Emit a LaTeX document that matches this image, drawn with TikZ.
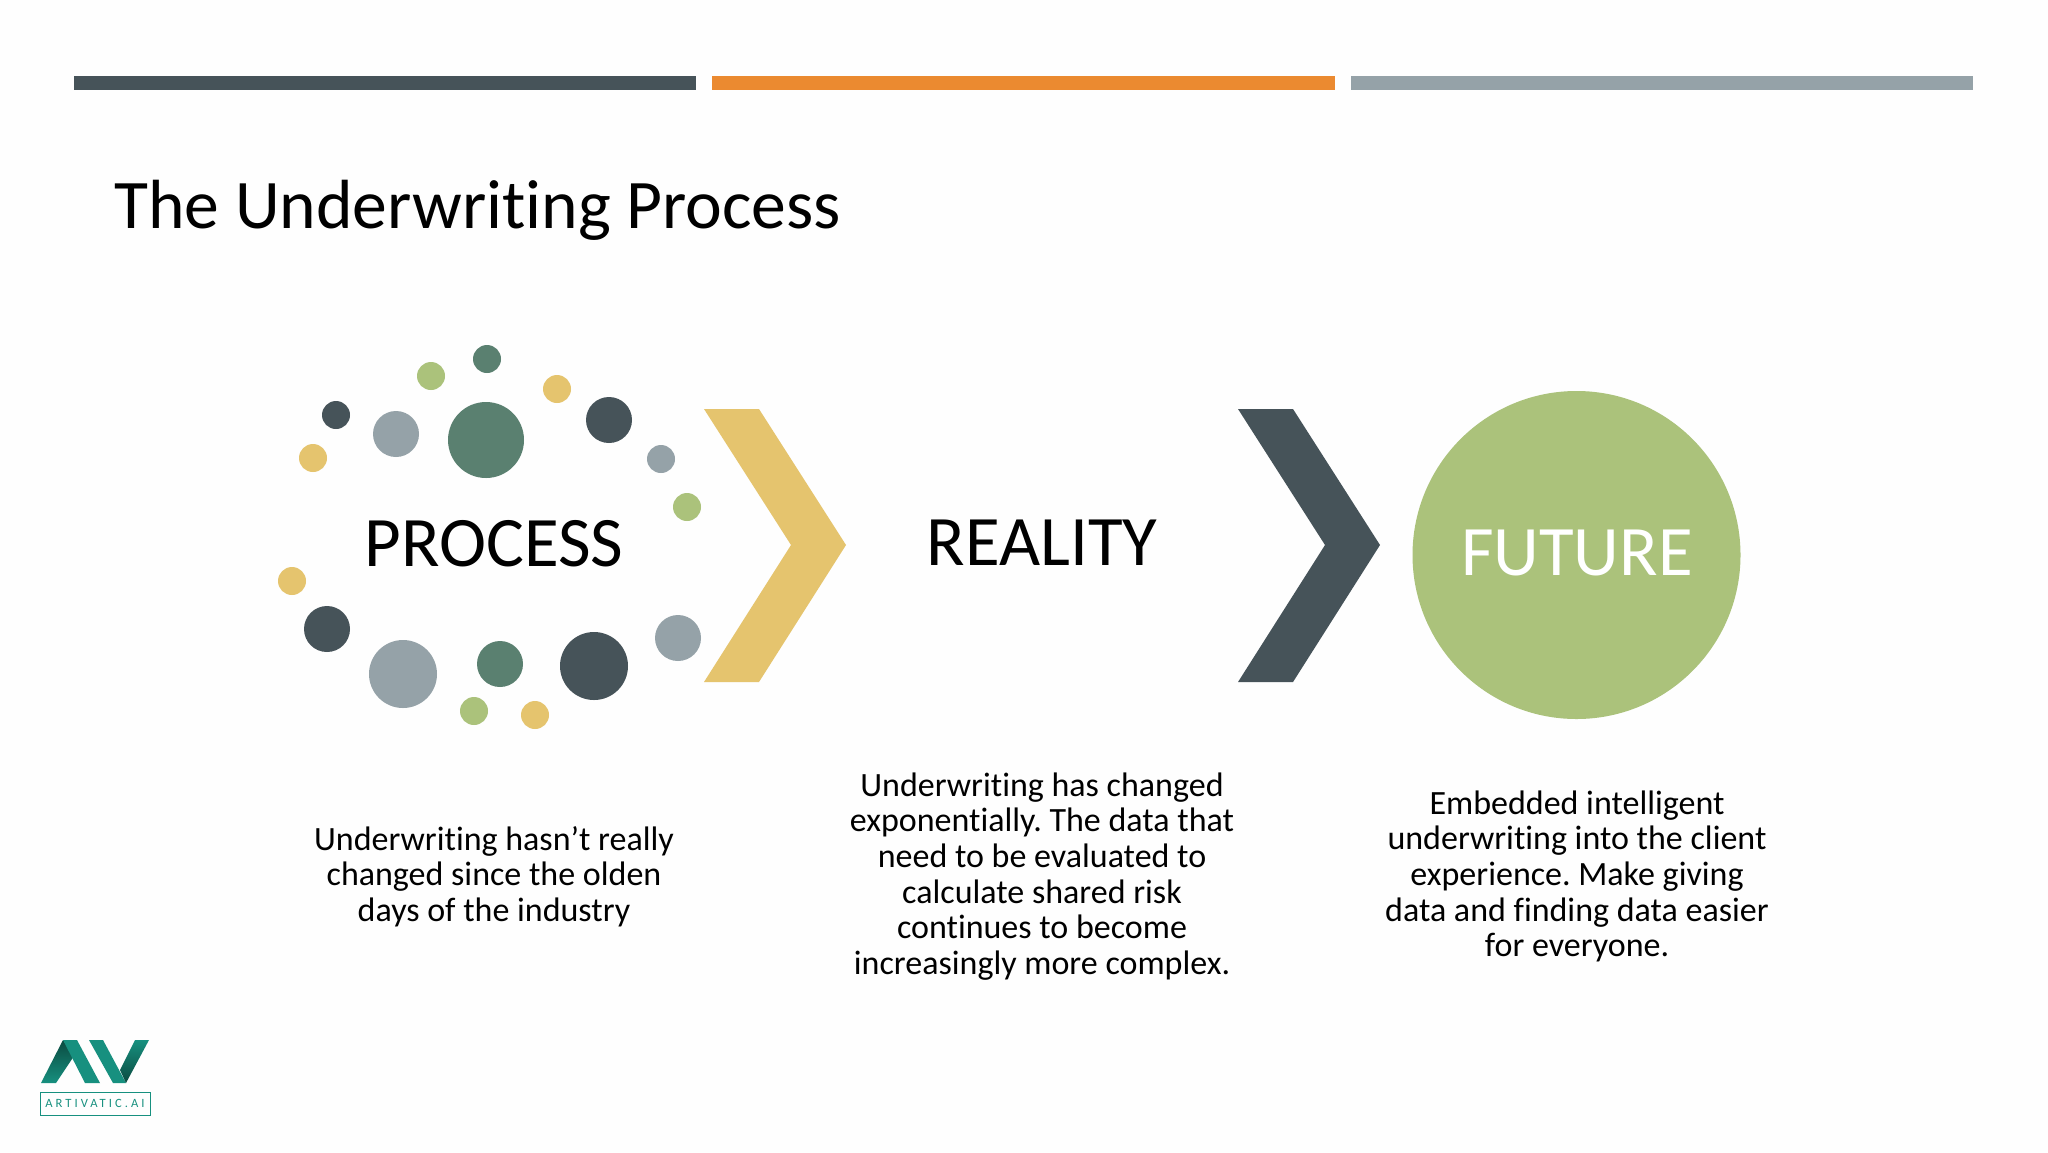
\documentclass[tikz,border=0pt]{standalone}
\usepackage{fontspec}
\setmainfont[Ligatures=NoCommon]{Carlito}
\usetikzlibrary{calc}
\usepackage{xcolor}
\definecolor{slatec}{HTML}{465359}
\definecolor{orangec}{HTML}{EB8A30}
\definecolor{grayc}{HTML}{95A2A8}
\definecolor{yellowc}{HTML}{E5C46E}
\definecolor{leafc}{HTML}{ABC27B}
\definecolor{tealc}{HTML}{5A8070}
\definecolor{logoc}{HTML}{17907F}
\definecolor{logod}{HTML}{0B4A40}
\tikzset{
  bodytext/.style={align=center,font=\frenchspacing\fontsize{17}{17.85}\selectfont,inner sep=0pt},
  headtext/.style={font=\fontsize{35.5}{36}\selectfont,inner sep=0pt},
}
\begin{document}
\begin{tikzpicture}[x=.5pt,y=-.5pt]
\useasboundingbox (0,0) rectangle (2048,1152);
\fill[white!99.6!black] (0,0) rectangle (2048,1152);
% bars
\fill[slatec] (73.5,76) rectangle (696,90);
\fill[orangec] (712,76) rectangle (1335,90);
\fill[grayc] (1351,76) rectangle (1973,90);
\node[anchor=base west,inner sep=0pt,font=\fontsize{34.8}{35}\selectfont] (title) at (114,228) {The Underwriting Process};
% dots
\foreach \x/\y/\r/\c in {486/440/38/tealc,396/434/23/grayc,336/415/14/slatec,313/458/14/yellowc,
  431/376/14/leafc,487/359/14/tealc,557/389/14/yellowc,609/420/23/slatec,661/459/14/grayc,
  687/507/14/leafc,678/638/23/grayc,594/666/34/slatec,500/664/23/tealc,403/674/34/grayc,
  327/629/23/slatec,292/581/14/yellowc,474/711/14/leafc,535/715/14/yellowc}
  \fill[\c] (\x,\y) circle (\r);
% chevrons
\def\chev#1#2{\fill[#2] (#1,409)--++(55,0)--++(87,136)--++(-87,137)--++(-55,0)--++(87,-137)--cycle;}
\chev{704}{yellowc}
\chev{1238}{slatec}
\fill[leafc] (1576.5,555) circle (164);
\node[headtext] (process) at (494,544) {PROCESS};
\node[headtext] (reality) at (1042,543) {REALITY};
\node[headtext,text=white] (future) at (1577,553) {FUTURE};
\node[bodytext] (processtext) at (494,876.5) {Underwriting hasn’t really\\changed since the olden\\days of the industry};
\node[bodytext] (realitytext) at (1042,876.5) {Underwriting has changed\\exponentially. The data that\\need to be evaluated to\\calculate shared risk\\continues to become\\increasingly more complex.};
\node[bodytext] (futuretext) at (1577,876.5) {Embedded intelligent\\underwriting into the client\\experience. Make giving\\data and finding data easier\\for everyone.};
% logo
\shade[bottom color=logoc,top color=logod] (41,1083)--(63,1040)--(74,1056)--(56,1083)--cycle;
\fill[logoc] (63,1040)--(77,1040)--(100,1083)--(85,1083)--cycle;
\fill[logoc] (89,1040)--(103,1040)--(126,1083)--(113,1083)--cycle;
\shade[top color=logoc,bottom color=logod] (135,1040)--(149,1040)--(126,1083)--(120,1070)--cycle;
\draw[logoc,line width=.5pt] (40,1092) rectangle (150,1115);
\node[text=logoc,inner sep=0pt,font=\fontsize{6.3}{7}\selectfont\addfontfeature{LetterSpace=24}] (logotext) at (95,1103.5) {ARTIVATIC.AI};
\end{tikzpicture}
\end{document}
